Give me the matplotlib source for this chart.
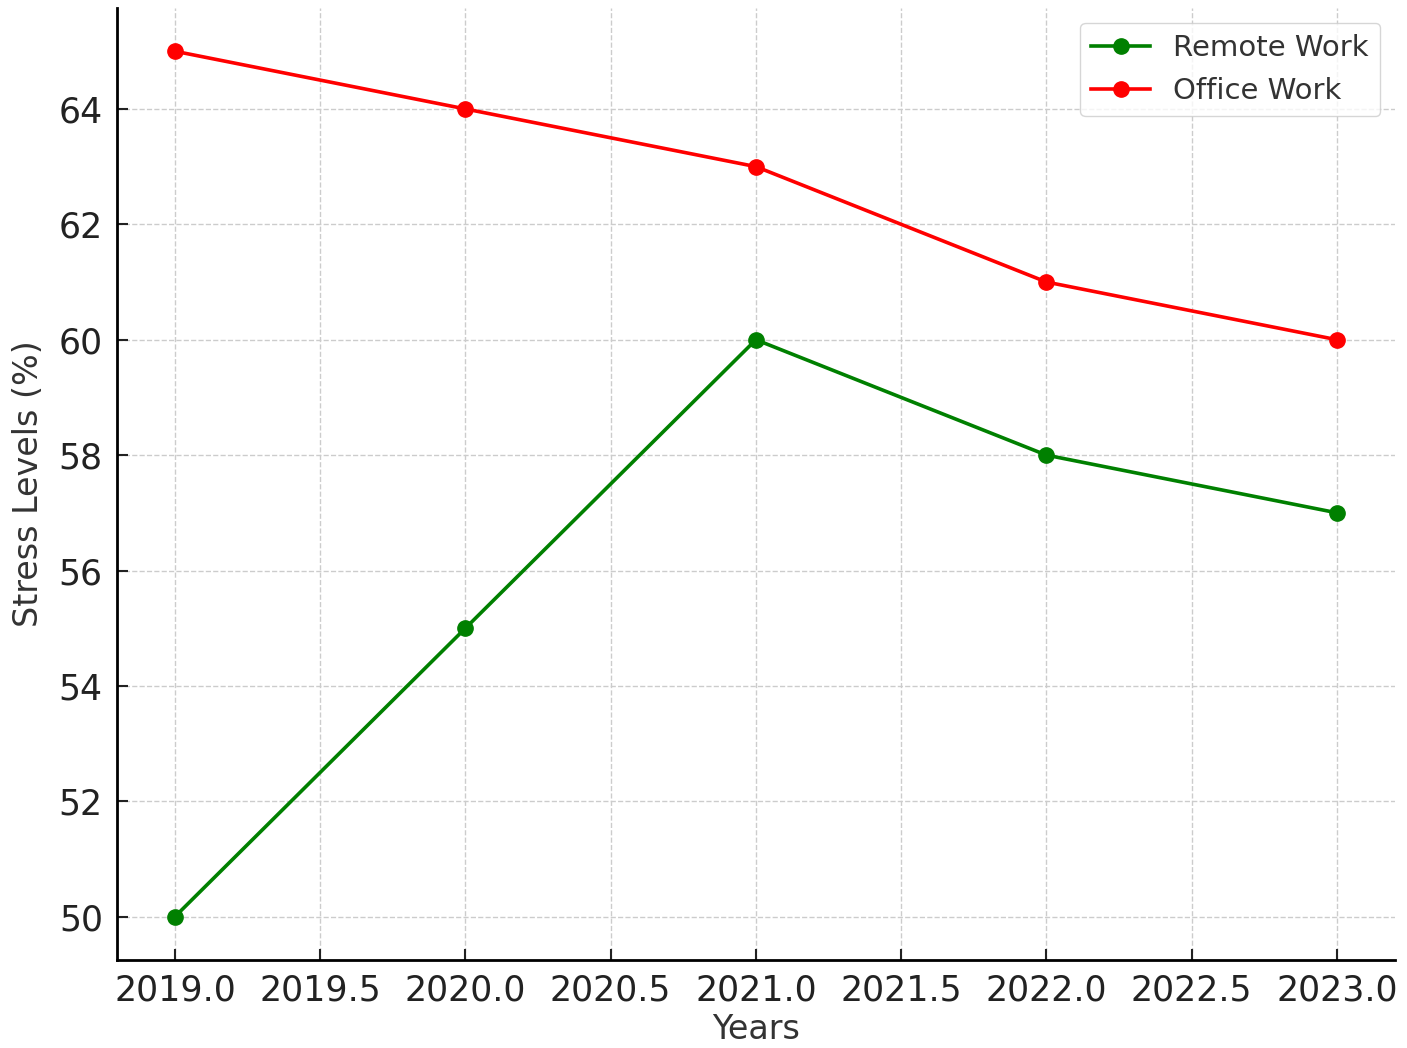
import matplotlib.pyplot as plt

years = [2019, 2020, 2021, 2022, 2023]
remote_work = [50, 55, 60, 58, 57]
office_work = [65, 64, 63, 61, 60]

fig = plt.figure(figsize=(14.07, 10.48), dpi=100)
ax = fig.add_axes([0.083, 0.084, 0.9085, 0.9084])

ax.plot(years, remote_work, color="green", marker="o", lw=2.6, ms=11, label="Remote Work")
ax.plot(years, office_work, color="red", marker="o", lw=2.6, ms=11, label="Office Work")

ax.set_xlabel("Years", fontsize=24, color="#333333", labelpad=4)
ax.set_ylabel("Stress Levels (%)", fontsize=24, color="#333333", labelpad=10)
ax.tick_params(direction="in", labelsize=25, length=8, width=1.5, colors="#222222", pad=10)
ax.xaxis.set_major_formatter(plt.FormatStrFormatter("%.1f"))
ax.grid(True, linestyle="--", color="#cccccc", linewidth=1)
ax.spines["top"].set_visible(False)
ax.spines["right"].set_visible(False)
ax.spines["left"].set_linewidth(2)
ax.spines["bottom"].set_linewidth(2)

ax.legend(loc="upper right", fontsize=21, handlelength=2, labelcolor="#333333", borderpad=0.4)

fig.savefig("out.png", dpi=100)
